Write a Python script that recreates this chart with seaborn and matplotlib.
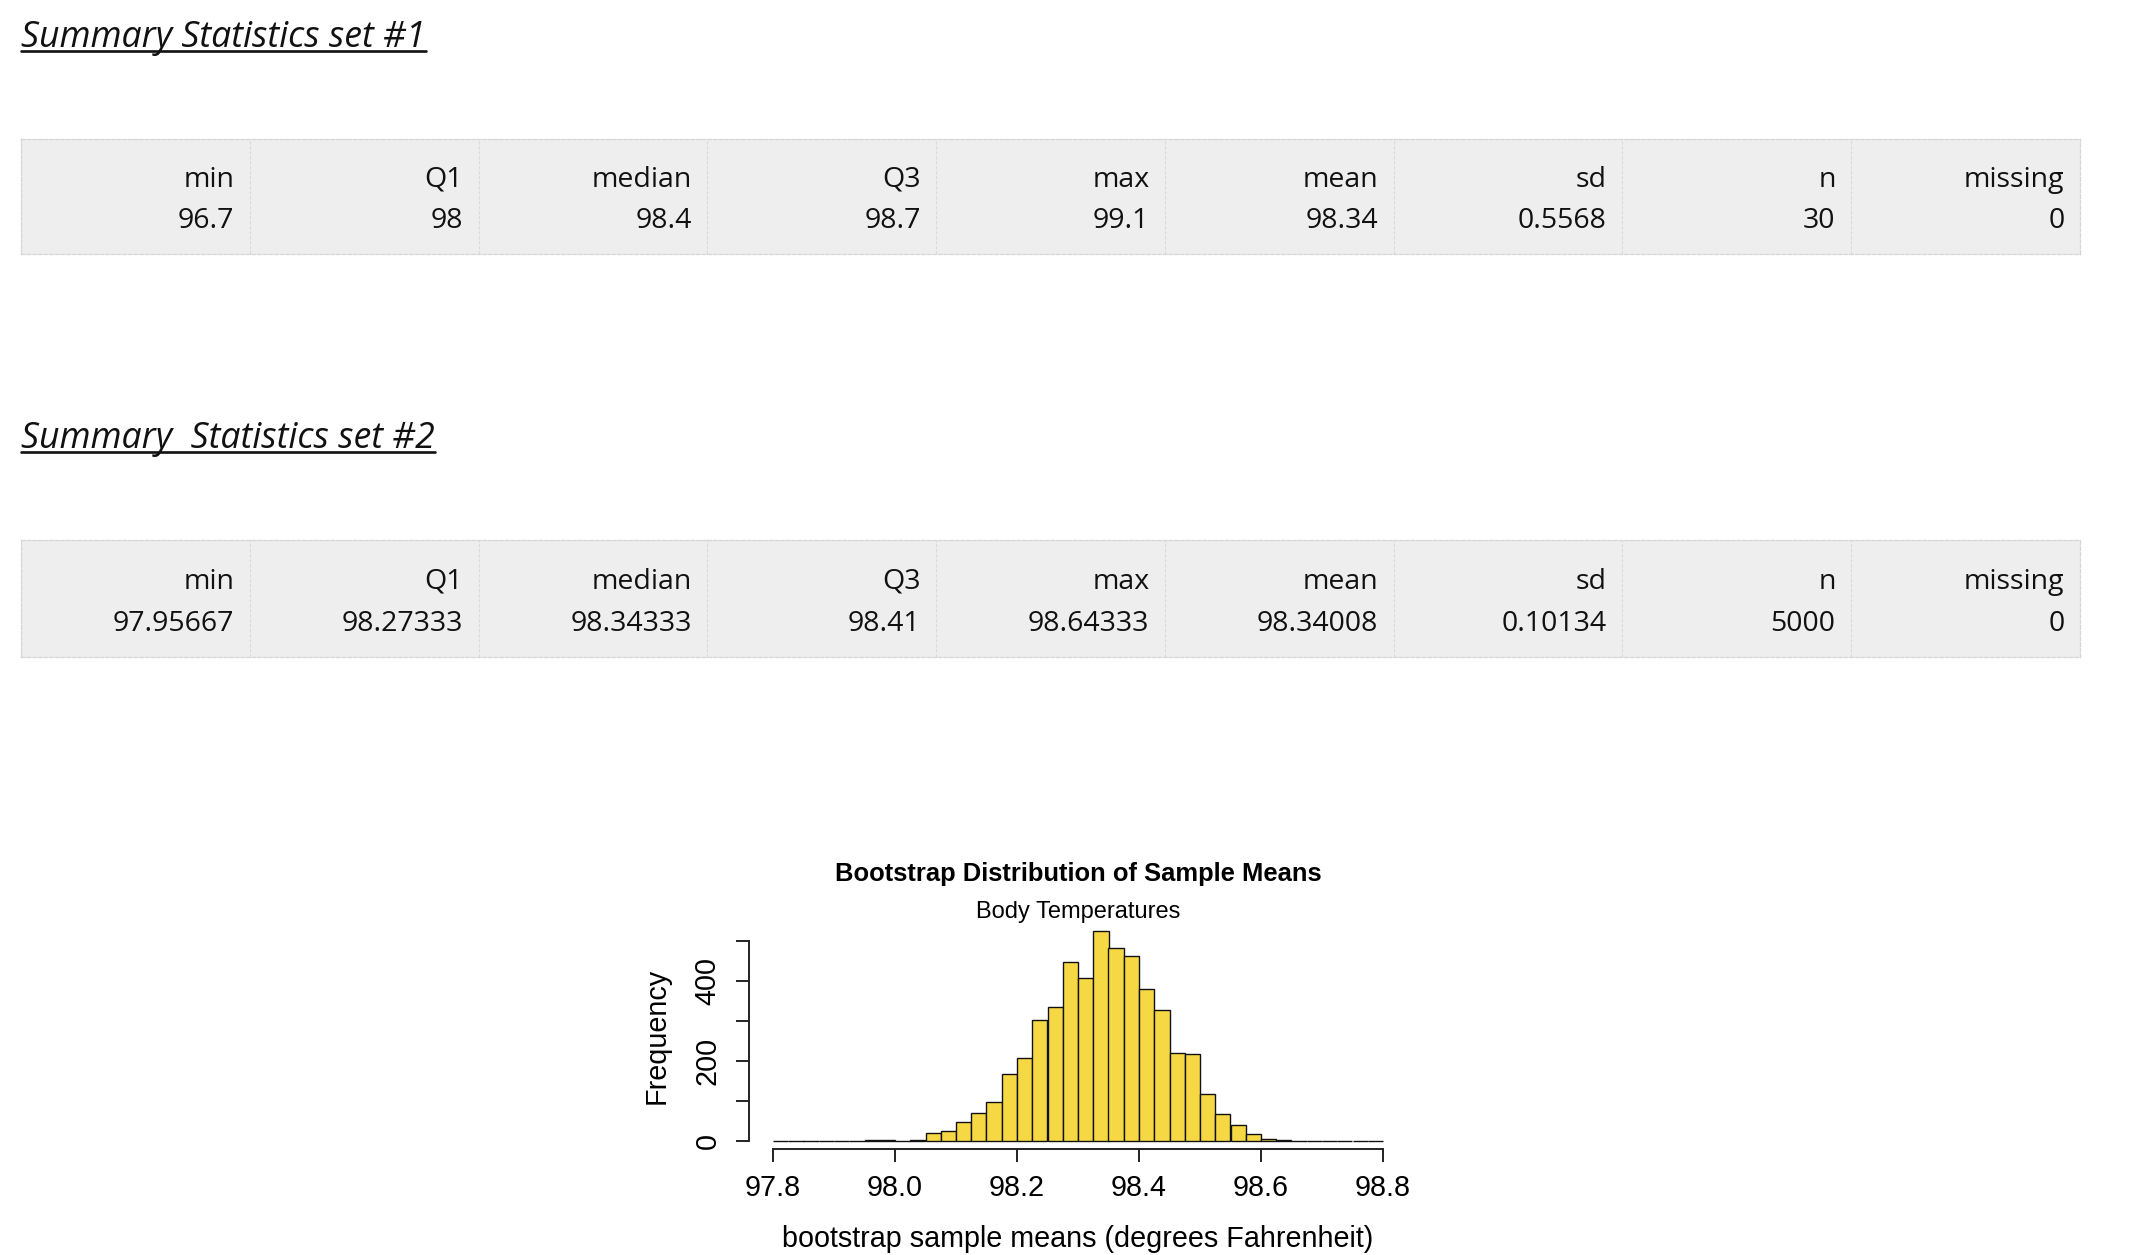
import numpy as np
import pandas as pd
import matplotlib
matplotlib.use("Agg")
import matplotlib.pyplot as plt
import seaborn as sns
from matplotlib.lines import Line2D

# ---------------- data ----------------
stat_names = ["min", "Q1", "median", "Q3", "max", "mean", "sd", "n", "missing"]
set1_values = ["96.7", "98", "98.4", "98.7", "99.1", "98.34", "0.5568", "30", "0"]
set2_values = ["97.95667", "98.27333", "98.34333", "98.41", "98.64333",
               "98.34008", "0.10134", "5000", "0"]
title1 = "Summary Statistics set #1"
title2 = "Summary  Statistics set #2"

bin_start = 97.8
bin_width = 0.025
bin_counts = [0, 0, 0, 0, 0, 0,
              2, 2, 0, 2, 18, 23, 47, 70, 97, 167, 207, 302, 333, 446,
              407, 523, 482, 462, 379, 326, 220, 217, 116, 67, 40, 17, 3, 2,
              0, 0, 0, 0, 0, 0]
x_ticks = [97.8, 98.0, 98.2, 98.4, 98.6, 98.8]
y_ticks = [0, 100, 200, 300, 400, 500]
y_tick_labels = ["0", "", "200", "", "400", ""]
hist_title = "Bootstrap Distribution of Sample Means"
hist_subtitle = "Body Temperatures"
x_label = "bootstrap sample means (degrees Fahrenheit)"
y_label = "Frequency"

# ---------------- figure ----------------
sns.set_theme(style="white")
plt.rcParams["font.family"] = ["Open Sans", "DejaVu Sans"]

W, H = 2152, 1255
fig = plt.figure(figsize=(W / 100, H / 100), dpi=100)
fig.patch.set_facecolor("white")


def fx(px):
    return px / W


def fy(py):
    return 1 - py / H


TXT = "#111111"


def draw_table(top, bottom, names, values):
    ax = fig.add_axes([fx(21), fy(bottom), fx(2080) - fx(21), (bottom - top) / H])
    ax.set_xlim(0, len(names))
    ax.set_ylim(0, 1)
    ax.set_facecolor("#eeeeee")
    ax.set_xticks([])
    ax.set_yticks([])
    for s in ax.spines.values():
        s.set_visible(True)
        s.set_linestyle((0, (3, 1.5)))
        s.set_edgecolor("#d6d6d6")
        s.set_linewidth(0.9)
    ax.vlines(np.arange(1, len(names)), 0, 1, colors="#dadada",
              linestyles=(0, (3, 1.5)), linewidth=0.8)
    for i, (n, v) in enumerate(zip(names, values)):
        ax.text(i + 1 - 0.068, 0.585, n, ha="right", va="baseline",
                fontsize=20.5, family=["Open Sans", "DejaVu Sans"], color=TXT)
        ax.text(i + 1 - 0.068, 0.225, v, ha="right", va="baseline",
                fontsize=20.5, family=["Open Sans", "DejaVu Sans"], color=TXT)
    return ax


titles = []
for txt, base, ul in [(title1, 47, 51), (title2, 448, 452)]:
    t = fig.text(fx(21), fy(base), txt, fontsize=25.7, style="italic",
                 family=["Open Sans", "DejaVu Sans"], va="baseline", color=TXT)
    titles.append((t, ul))

draw_table(139, 254, stat_names, set1_values)
draw_table(540, 657, stat_names, set2_values)

# ---------------- histogram ----------------
hist_font = ["Liberation Sans", "DejaVu Sans"]
AX_FS = 20.7
n_bins = len(bin_counts)
centers = bin_start + bin_width * (np.arange(n_bins) + 0.5)
df = pd.DataFrame({"mean": centers, "count": bin_counts})

ax = fig.add_axes([fx(748.6), fy(1149), (1407.4 - 748.6) / W, 226 / H])
sns.histplot(data=df, x="mean", weights="count", bins=n_bins,
             binrange=(bin_start, bin_start + n_bins * bin_width), ax=ax,
             color="#F6D845", edgecolor="#111111", linewidth=1.0, alpha=1.0)
ax.set_xlim(97.76, 98.84)
ymax = max(bin_counts)
ax.set_ylim(-0.04 * ymax, 1.04 * ymax)
ax.set_facecolor("white")
for side in ["top", "right"]:
    ax.spines[side].set_visible(False)
for side in ["left", "bottom"]:
    ax.spines[side].set_visible(True)
    ax.spines[side].set_color("#222222")
    ax.spines[side].set_linewidth(1.4)
ax.spines["left"].set_bounds(y_ticks[0], y_ticks[-1])
ax.spines["bottom"].set_bounds(x_ticks[0], x_ticks[-1])
ax.set_xticks(x_ticks)
ax.set_xticklabels([f"{v:.1f}" for v in x_ticks], family=hist_font, fontsize=AX_FS)
ax.set_yticks(y_ticks)
ax.set_yticklabels(y_tick_labels, family=hist_font, fontsize=AX_FS,
                   rotation=90, va="center")
ax.tick_params(axis="both", direction="out", length=9.3, width=1.4, color="#222222",
               labelcolor="black", left=True, bottom=True)
ax.tick_params(axis="x", pad=8.5)
ax.tick_params(axis="y", pad=10)
ax.set_xlabel(x_label, family=hist_font, fontsize=AX_FS, labelpad=16.5, color="black")
ax.set_ylabel(y_label, family=hist_font, fontsize=AX_FS, labelpad=17, color="black")
ax.grid(False)

cx = fx((748.6 + 1407.4) / 2)
fig.text(cx, fy(881.5), hist_title, ha="center", va="baseline",
         fontsize=18.4, fontweight="bold", family=hist_font, color="black")
fig.text(cx, fy(918), hist_subtitle, ha="center", va="baseline",
         fontsize=17, family=hist_font, color="black")

# underline the section titles
fig.canvas.draw()
renderer = fig.canvas.get_renderer()
for t, ul in titles:
    bb = t.get_window_extent(renderer)
    fig.add_artist(Line2D([bb.x0 / W, bb.x1 / W], [fy(ul), fy(ul)],
                          transform=fig.transFigure, color=TXT, linewidth=1.9))

fig.savefig("out.png", dpi=100, facecolor="white")
